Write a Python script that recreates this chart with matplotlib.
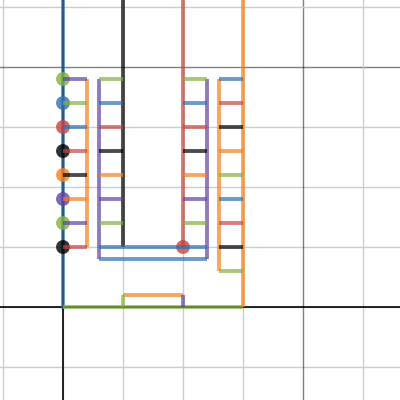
import matplotlib
matplotlib.use("Agg")
import matplotlib.pyplot as plt
import numpy as np

C = {'r': '#c74440', 'b': '#2d70b3', 'g': '#7fb33a', 'p': '#6042a6', 'o': '#fa7e19', 'k': '#000000'}
rows = [3.8, 3.4, 3.0, 2.6, 2.2, 1.8, 1.4, 1.0]
dot_colors = ['g', 'b', 'r', 'k', 'o', 'p', 'g', 'k']
rung1 = ['p', 'g', 'b', 'r', 'k', 'o', 'p', 'r']
rung2 = ['g', 'b', 'r', 'k', 'o', 'p', 'g']
rung4_y = [3.8, 3.4, 3.0, 2.6, 2.2, 1.8, 1.4, 1.0, 0.6]
rung4 = ['b', 'r', 'k', 'o', 'g', 'b', 'r', 'k', 'g']
# segments: (x0, y0, x1, y1, color)
segments = [
    (0, 0, 3, 0, 'g'), (0.4, 1.0, 0.4, 3.8, 'o'),
    (0.6, 0.8, 0.6, 3.8, 'p'), (0.6, 0.8, 2.4, 0.8, 'b'), (1, 1, 1, 6, 'k'),
    (2, 1, 2, 6, 'r'), (2.4, 0.8, 2.4, 3.8, 'p'), (0.6, 1.0, 2.4, 1.0, 'b'),
    (2.6, 0.6, 2.6, 3.8, 'o'), (3, 0, 3, 6, 'o'),
    (1, 0.2, 2, 0.2, 'o'), (1, 0, 1, 0.2, 'g'), (2, 0, 2, 0.2, 'p'),
]

fig = plt.figure(figsize=(4, 4), dpi=100)
ax = fig.add_axes([0, 0, 1, 1])
ax.set_xlim(-1.05, 5.617)
ax.set_ylim(-1.55, 5.117)
for v in range(-1, 6):
    ax.axvline(v, color='#000000' if v == 4 else '#cccccc', lw=1, alpha=0.5 if v == 4 else 1, zorder=0)
    ax.axhline(v, color='#000000' if v == 4 else '#cccccc', lw=1, alpha=0.5 if v == 4 else 1, zorder=0)
ax.axvline(0, color='k', lw=1.2, zorder=0.5)
ax.axhline(0, color='k', lw=1.2, zorder=0.5)

kw = dict(lw=2.8, alpha=0.7, solid_capstyle='butt', zorder=3)
ax.plot([0, 0], [0, 6], color=C['b'], lw=2.8, alpha=0.7, zorder=1)
for y, c in zip(rows, dot_colors):
    ax.scatter([0], [y], s=100, color=C[c], alpha=0.8, zorder=2, edgecolors='none')
ax.scatter([2], [1.0], s=100, color=C['r'], alpha=0.8, zorder=2, edgecolors='none')
for x0, y0, x1, y1, c in segments:
    ax.plot([x0, x1], [y0, y1], color=C[c], **kw)
for y, c in zip(rows, rung1):
    ax.plot([0, 0.4], [y, y], color=C[c], **kw)
for y, c in zip(rows[:7], rung2):
    ax.plot([0.6, 1], [y, y], color=C[c], **kw)
    ax.plot([2, 2.4], [y, y], color=C[c], **kw)
for y, c in zip(rung4_y, rung4):
    ax.plot([2.6, 3], [y, y], color=C[c], **kw)
ax.axis('off')
fig.savefig('out.png', dpi=100)
